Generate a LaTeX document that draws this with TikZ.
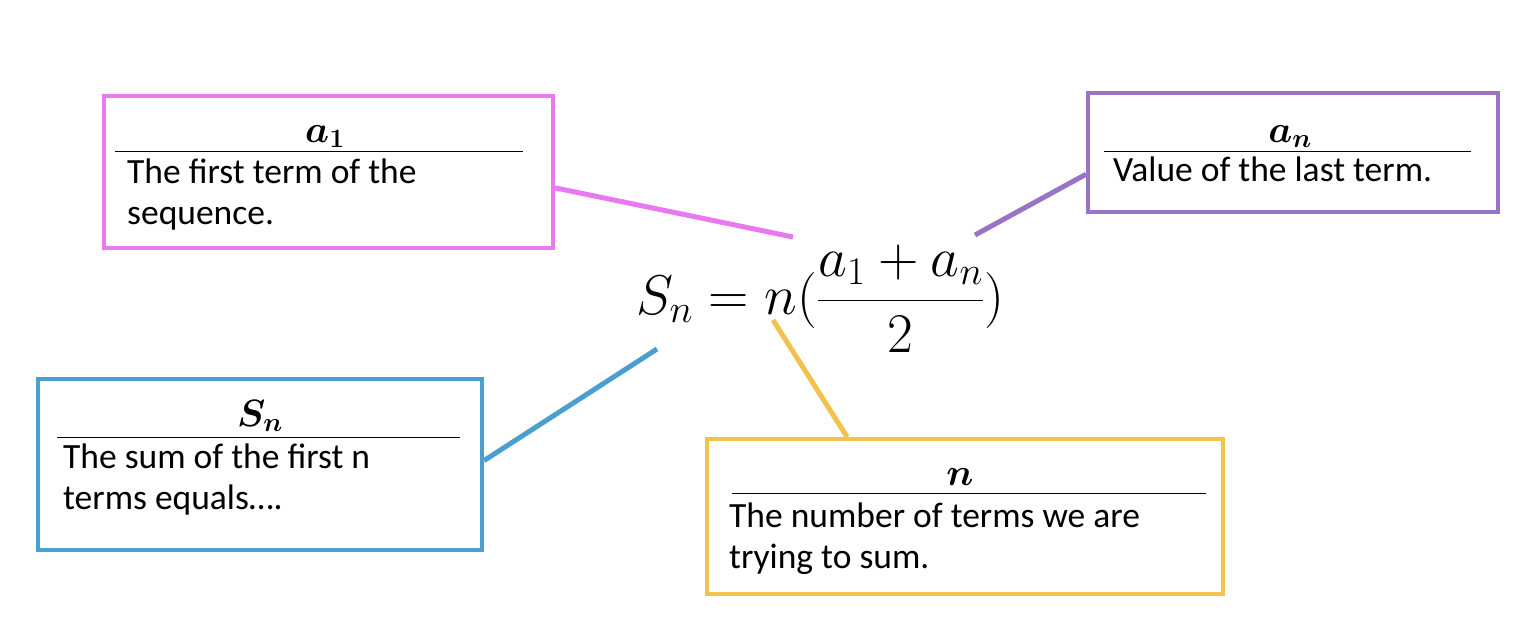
\RequirePackage{fix-cm}
\documentclass[tikz,border=0pt]{standalone}
\usepackage{amsmath}
\usepackage{bm}
\usepackage{fontspec}
\setmainfont{Carlito}
\definecolor{cpink}{RGB}{232,121,240}
\definecolor{cpurple}{RGB}{153,115,196}
\definecolor{cblue}{RGB}{74,159,208}
\definecolor{cyellow}{RGB}{242,194,78}
\tikzset{
  x=1pt,y=-1pt,
  box/.style={draw=#1,line width=4pt,rectangle,inner sep=0pt,anchor=north west},
  conn/.style={draw=#1,line width=5pt},
  head/.style={anchor=base,inner sep=0pt,font=\fontsize{38}{41}\selectfont},
  body/.style={anchor=base west,inner sep=0pt,align=left,font=\fontsize{35.5}{41}\selectfont},
  rulel/.style={draw=black,line width=1pt}
}
\begin{document}
\begin{tikzpicture}
\useasboundingbox (0,0) rectangle (1520,624);
% boxes
\node[box=cpink,minimum width=449pt,minimum height=152pt] (pinkbox) at (102,94) {};
\node[box=cpurple,minimum width=410pt,minimum height=119pt] (purplebox) at (1086,91) {};
\node[box=cblue,minimum width=444pt,minimum height=171pt] (bluebox) at (36,377) {};
\node[box=cyellow,minimum width=516pt,minimum height=155pt] (yellowbox) at (705,437) {};
% formula
\node[anchor=base,inner sep=0pt,font=\fontsize{56}{60}\selectfont] (formula) at (820,314)
  {$S_n = n(\dfrac{a_1+a_n}{2})$};
% pink content
\node[head] (pinkhead) at (325,142) {$\bm{a}_{\bm{1}}$};
\draw[rulel] (115,151) -- (523,151);
\node[body] (pinktext) at (127,224) {The first term of the\\sequence.};
% purple content
\node[head] (purplehead) at (1290,142) {$\bm{a}_{\bm{n}}$};
\draw[rulel] (1104,151) -- (1471,151);
\node[body] (purpletext) at (1113,181) {Value of the last term.};
% blue content
\node[head] (bluehead) at (260,426) {$\bm{S}_{\bm{n}}$};
\draw[rulel] (57,437) -- (460,437);
\node[body] (bluetext) at (63,509) {The sum of the first n\\terms equals\dots.};
% yellow content
\node[head] (yellowhead) at (960,485) {$\bm{n}$};
\draw[rulel] (732,493) -- (1206,493);
\node[body] (yellowtext) at (729,568) {The number of terms we are\\trying to sum.};
% connector ends
\coordinate (pinkend) at (793,237);
\coordinate (purpleend) at (975,235);
\coordinate (blueend) at (657,349);
\coordinate (yellowend) at (773,320);
\draw[conn=cpink] (pinkbox.-4) -- (pinkend);
\draw[conn=cpurple] (purplebox.186) -- (purpleend);
\draw[conn=cblue] (bluebox.1) -- (blueend);
\draw[conn=cyellow] (yellowbox.146) -- (yellowend);
\end{tikzpicture}
\end{document}
